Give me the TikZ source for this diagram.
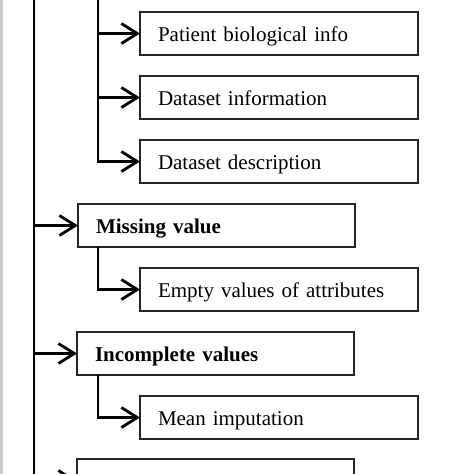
\documentclass[tikz,border=0pt]{standalone}
\usepackage{fontspec}
\setmainfont{Liberation Serif}
\usetikzlibrary{arrows.meta}
\begin{document}
\begin{tikzpicture}[x=1pt,y=-1pt,
  box/.style={draw=black!85, line width=1.7pt, rectangle, minimum height=43pt,
    inner xsep=18pt, inner ysep=0pt, align=left, text height=16pt, text depth=0pt,
    font=\fontsize{21}{25}\selectfont, anchor=north west, outer sep=0pt},
  wide/.style={box, text width=242pt},
  head/.style={box, text width=241pt, font=\fontsize{21}{25}\selectfont\bfseries},
  link/.style={line width=2.8pt, black},
  arr/.style={link, -{Straight Barb[length=16pt,width=20pt]}}]
\useasboundingbox (0,0) rectangle (474,474);
\clip (0,0) rectangle (474,474);
\fill[black!20] (0,0) rectangle (3,474);
\node[wide] (pbi) at (140,12) {Patient biological info};
\node[wide] (dinfo) at (140,76) {Dataset information};
\node[wide] (ddesc) at (140,140) {Dataset description};
\node[head] (mv) at (78,204) {Missing value};
\node[wide] (empty) at (140,268) {Empty values of attributes};
\node[head] (inc) at (77,332) {Incomplete values};
\node[wide] (mean) at (140,396) {Mean imputation};
\node[head] (nxt) at (77,459) {};
\coordinate (mtop) at (34,-5);
\coordinate (mbot) at (34,490);
\coordinate (stop) at (98,-5);
\draw[link] (mtop) -- (mbot);
\draw[arr] (stop) |- (ddesc.west);
\draw[arr] (stop |- pbi.west) -- (pbi.west);
\draw[arr] (stop |- dinfo.west) -- (dinfo.west);
\draw[arr] (mtop |- mv.west) -- (mv.west);
\draw[arr] ([xshift=20pt]mv.south west) |- (empty.west);
\draw[arr] (mtop |- inc.west) -- (inc.west);
\draw[arr] ([xshift=21pt]inc.south west) |- (mean.west);
\draw[arr] (mtop |- nxt.west) -- (nxt.west);
\end{tikzpicture}
\end{document}
